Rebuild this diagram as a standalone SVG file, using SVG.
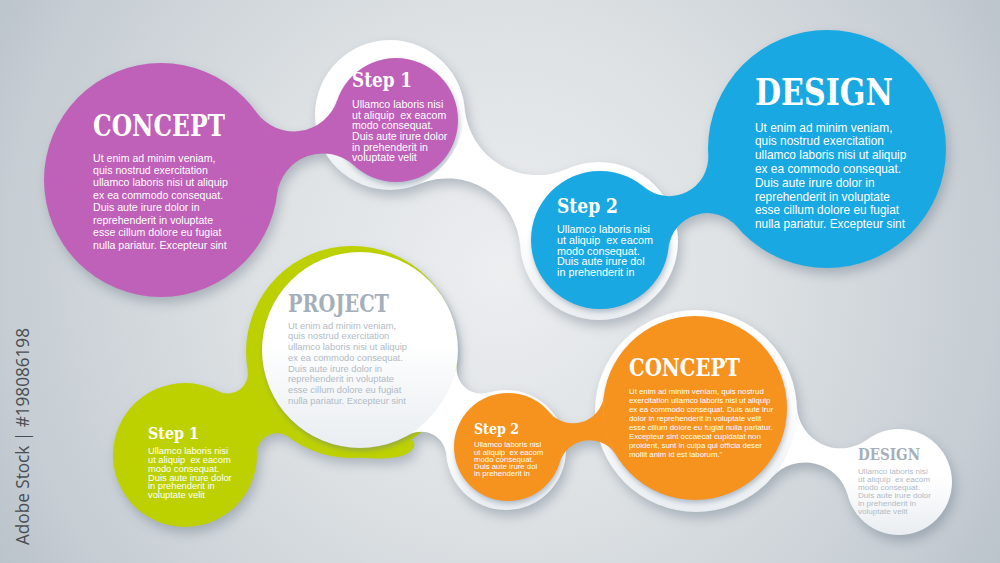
<svg xmlns="http://www.w3.org/2000/svg" xmlns:xlink="http://www.w3.org/1999/xlink" width="1000" height="563" viewBox="0 0 1000 563">
<style>
.h{font-family:'DejaVu Serif Condensed','DejaVu Serif',serif;font-weight:bold;fill:#fff}
.b{font-family:'Liberation Sans',Arial,sans-serif;fill:#fff}
.gt{fill:#a5afba}
.gb{fill:#b2bbc5}
.pu{fill:#bf60b9}
.bl{fill:#1aa8e2}
.gr{fill:#bdd100}
.or{fill:#f6931f}
.wh{fill:url(#wg)}
.wf{fill:#ffffff}
.ish{fill:#6a7d93;opacity:.45}
</style>
<defs>
<radialGradient id="bg" gradientUnits="userSpaceOnUse" cx="500" cy="270" r="620">
<stop offset="0" stop-color="#eceef0"/>
<stop offset="0.4" stop-color="#dde1e4"/>
<stop offset="0.8" stop-color="#c6cdd3"/>
<stop offset="1" stop-color="#b5bec7"/>
</radialGradient>
<linearGradient id="wg" x1="0" y1="0" x2="0" y2="1">
<stop offset="0.45" stop-color="#ffffff"/>
<stop offset="1" stop-color="#e9edf1"/>
</linearGradient>
<filter id="blur6" x="-30%" y="-30%" width="160%" height="160%"><feGaussianBlur stdDeviation="6"/></filter>
<filter id="blur2" x="-20%" y="-20%" width="140%" height="140%"><feGaussianBlur stdDeviation="2.5"/></filter>
<path id="n1" d="M256.3,112.1 A46,46 0 0 0 337.3,100.1 A68.2,68.2 0 0 0 354.0,165.6 A46,46 0 0 0 277.2,193.9 A128.7,128.7 0 0 0 256.3,112.1 Z"/>
<path id="n2" d="M464.7,108.4 A73,73 0 0 0 567.0,168.8 A86.9,86.9 0 0 0 520.2,246.4 A73,73 0 0 0 419.1,184.1 A82.5,82.5 0 0 0 464.7,108.4 Z"/>
<path id="n3" d="M644.2,187.0 A39,39 0 0 0 708.2,155.1 A130.9,130.9 0 0 0 736.9,226.7 A39,39 0 0 0 668.6,247.8 A75.9,75.9 0 0 0 644.2,187.0 Z"/>
<path id="n4" d="M218.6,391.3 A20,20 0 0 0 247.6,370.2 A116.6,116.6 0 0 0 288.9,437.2 A20,20 0 0 0 257.0,453.6 A79.2,79.2 0 0 0 218.6,391.3 Z"/>
<path id="n5" d="M549.3,412.2 A31,31 0 0 0 603.8,396.2 A101.2,101.2 0 0 0 616.1,455.3 A31,31 0 0 0 559.8,462.4 A59.4,59.4 0 0 0 549.3,412.2 Z"/>
<path id="n6" d="M456.9,364.8 A25,25 0 0 0 488.8,392.5 A66,66 0 0 0 446.2,454.7 A25,25 0 0 0 408.8,435.0 A107.8,107.8 0 0 0 456.9,364.8 Z"/>
<path id="n7" d="M796.9,406.4 A44,44 0 0 0 867.2,439.6 A58.3,58.3 0 0 0 847.7,495.4 A44,44 0 0 0 772.0,477.5 A111.1,111.1 0 0 0 796.9,406.4 Z"/>
<path id="tail" d="M360,457.5 C390,460 408,458 414,447 C416,441 410,437 400,440 L370,448 Z"/>
</defs>

<rect width="1000" height="563" fill="url(#bg)"/>

<g id="shadows" filter="url(#blur6)" fill="#4d5d70" opacity="0.34" transform="translate(3,6)">
<circle cx="161" cy="180" r="117"/>
<circle cx="390" cy="115" r="75"/>
<circle cx="599" cy="241" r="79"/>
<circle cx="827" cy="149" r="119"/>
<circle cx="185" cy="455" r="72"/>
<circle cx="352" cy="352" r="106"/>
<circle cx="506" cy="450" r="60"/>
<circle cx="696" cy="411" r="101"/>
<circle cx="899" cy="482" r="53"/>
<use xlink:href="#n1"/><use xlink:href="#n2"/><use xlink:href="#n3"/><use xlink:href="#n4"/><use xlink:href="#n5"/><use xlink:href="#n6"/><use xlink:href="#n7"/><use xlink:href="#tail"/>
</g>

<g id="concept-top">
<circle class="pu" cx="161" cy="180" r="117"/>
<text class="h" x="93" y="136" font-size="29" textLength="132" lengthAdjust="spacingAndGlyphs">CONCEPT</text>
<text class="b" font-size="10.6">
<tspan x="93" y="161.5">Ut enim ad minim veniam,</tspan>
<tspan x="93" y="174">quis nostrud exercitation</tspan>
<tspan x="93" y="186.4">ullamco laboris nisi ut aliquip</tspan>
<tspan x="93" y="198.9">ex ea commodo consequat.</tspan>
<tspan x="93" y="211.3">Duis aute irure dolor in</tspan>
<tspan x="93" y="223.8">reprehenderit in voluptate</tspan>
<tspan x="93" y="236.2">esse cillum dolore eu fugiat</tspan>
<tspan x="93" y="248.7">nulla pariatur. Excepteur sint</tspan>
</text>
</g>

<g id="step1-top">
<circle class="wh" cx="390" cy="115" r="75"/>
<circle class="ish" cx="397" cy="123" r="62" filter="url(#blur2)"/>
<circle class="pu" cx="396" cy="120" r="62"/>
<text class="h" x="352" y="87" font-size="20" textLength="60" lengthAdjust="spacingAndGlyphs">Step 1</text>
<text class="b" font-size="10.6" xml:space="preserve">
<tspan x="352" y="108.3">Ullamco laboris nisi</tspan>
<tspan x="352" y="118.9">ut aliquip  ex eacom</tspan>
<tspan x="352" y="129.4">modo consequat.</tspan>
<tspan x="352" y="140">Duis aute irure dolor</tspan>
<tspan x="352" y="150.5">in prehenderit in</tspan>
<tspan x="352" y="161">voluptate velit</tspan>
</text>
</g>

<g id="step2-top">
<circle class="wh" cx="599" cy="241" r="79"/>
<circle class="ish" cx="601" cy="243" r="69" filter="url(#blur2)"/>
<circle class="bl" cx="600" cy="240" r="69"/>
<text class="h" x="557" y="212.5" font-size="20" textLength="61" lengthAdjust="spacingAndGlyphs">Step 2</text>
<text class="b" font-size="10.8" xml:space="preserve">
<tspan x="557" y="233">Ullamco laboris nisi</tspan>
<tspan x="557" y="243.8">ut aliquip  ex eacom</tspan>
<tspan x="557" y="254.6">modo consequat.</tspan>
<tspan x="557" y="265.4">Duis aute irure dol</tspan>
<tspan x="557" y="276.2">in prehenderit in</tspan>
</text>
</g>

<g id="design-top">
<circle class="bl" cx="827" cy="149" r="119"/>
<text class="h" x="755" y="105" font-size="37" textLength="138" lengthAdjust="spacingAndGlyphs">DESIGN</text>
<text class="b" font-size="11.9">
<tspan x="755" y="131.5">Ut enim ad minim veniam,</tspan>
<tspan x="755" y="145.3">quis nostrud exercitation</tspan>
<tspan x="755" y="159.1">ullamco laboris nisi ut aliquip</tspan>
<tspan x="755" y="172.9">ex ea commodo consequat.</tspan>
<tspan x="755" y="186.7">Duis aute irure dolor in</tspan>
<tspan x="755" y="200.5">reprehenderit in voluptate</tspan>
<tspan x="755" y="214.3">esse cillum dolore eu fugiat</tspan>
<tspan x="755" y="228.1">nulla pariatur. Excepteur sint</tspan>
</text>
</g>

<g id="step1-bottom">
<circle class="gr" cx="185" cy="455" r="72"/>
<text class="h" x="148" y="439" font-size="17" textLength="51" lengthAdjust="spacingAndGlyphs">Step 1</text>
<text class="b" font-size="9.3" xml:space="preserve">
<tspan x="148" y="454">Ullamco laboris nisi</tspan>
<tspan x="148" y="462.9">ut aliquip  ex eacom</tspan>
<tspan x="148" y="471.7">modo consequat.</tspan>
<tspan x="148" y="480.6">Duis aute irure dolor</tspan>
<tspan x="148" y="489.4">in prehenderit in</tspan>
<tspan x="148" y="498.3">voluptate velit</tspan>
</text>
</g>

<g id="project">
<circle class="gr" cx="352" cy="352" r="106"/>
<use class="gr" xlink:href="#tail"/>
<circle class="ish" cx="361" cy="353" r="98" filter="url(#blur2)"/>
<circle class="wh" cx="360" cy="350" r="98"/>
<text class="h gt" x="288" y="311.5" font-size="25" textLength="101" lengthAdjust="spacingAndGlyphs">PROJECT</text>
<text class="b gb" font-size="9.35">
<tspan x="288" y="328.7">Ut enim ad minim veniam,</tspan>
<tspan x="288" y="339.4">quis nostrud exercitation</tspan>
<tspan x="288" y="350.1">ullamco laboris nisi ut aliquip</tspan>
<tspan x="288" y="360.8">ex ea commodo consequat.</tspan>
<tspan x="288" y="371.5">Duis aute irure dolor in</tspan>
<tspan x="288" y="382.2">reprehenderit in voluptate</tspan>
<tspan x="288" y="392.9">esse cillum dolore eu fugiat</tspan>
<tspan x="288" y="403.6">nulla pariatur. Excepteur sint</tspan>
</text>
</g>

<g id="step2-bottom">
<circle class="wh" cx="506" cy="450" r="60"/>
<circle class="ish" cx="509" cy="450" r="54" filter="url(#blur2)"/>
<circle class="or" cx="508" cy="447" r="54"/>
<text class="h" x="474" y="434" font-size="15.5" textLength="45" lengthAdjust="spacingAndGlyphs">Step 2</text>
<text class="b" font-size="7.8" xml:space="preserve">
<tspan x="474" y="447.3">Ullamco laboris nisi</tspan>
<tspan x="474" y="454.6">ut aliquip  ex eacom</tspan>
<tspan x="474" y="461.8">modo consequat.</tspan>
<tspan x="474" y="469.1">Duis aute irure dol</tspan>
<tspan x="474" y="476.3">in prehenderit in</tspan>
</text>
</g>

<g id="concept-bottom">
<circle class="wh" cx="696" cy="411" r="101"/>
<circle class="ish" cx="696" cy="411" r="92" filter="url(#blur2)"/>
<circle class="or" cx="695" cy="408" r="92"/>
<text class="h" x="629" y="376" font-size="24" textLength="111" lengthAdjust="spacingAndGlyphs">CONCEPT</text>
<text class="b" font-size="7.8">
<tspan x="629" y="394">Ut enim ad minim veniam, quis nostrud</tspan>
<tspan x="629" y="403">exercitation ullamco laboris nisi ut aliquip</tspan>
<tspan x="629" y="412">ex ea commodo consequat. Duis aute irur</tspan>
<tspan x="629" y="421">dolor in reprehenderit in voluptate velit</tspan>
<tspan x="629" y="430">esse cillum dolore eu fugiat nulla pariatur.</tspan>
<tspan x="629" y="439">Excepteur sint occaecat cupidatat non</tspan>
<tspan x="629" y="448">proident, sunt in culpa qui officia deser</tspan>
<tspan x="629" y="457">mollit anim id est laborum."</tspan>
</text>
</g>

<g id="design-bottom">
<circle class="wh" cx="899" cy="482" r="53"/>
<text class="h gt" x="858" y="460" font-size="16.5" textLength="62" lengthAdjust="spacingAndGlyphs">DESIGN</text>
<text class="b gb" font-size="8.1" xml:space="preserve">
<tspan x="858" y="473.5">Ullamco laboris nisi</tspan>
<tspan x="858" y="481.5">ut aliquip  ex eacom</tspan>
<tspan x="858" y="489.5">modo consequat.</tspan>
<tspan x="858" y="497.5">Duis aute irure dolor</tspan>
<tspan x="858" y="505.5">in prehenderit in</tspan>
<tspan x="858" y="513.5">voluptate velit</tspan>
</text>
</g>

<g id="connectors">
<use class="wf" xlink:href="#n2"/>
<use class="wf" xlink:href="#n6"/>
<use class="wf" xlink:href="#n7"/>
<use class="pu" xlink:href="#n1"/>
<use class="bl" xlink:href="#n3"/>
<use class="gr" xlink:href="#n4"/>
<use class="or" xlink:href="#n5"/>
</g>

<g id="side-label">
<text transform="translate(29,545) rotate(-90)" x="0" y="0" font-family="'Open Sans','Noto Sans',sans-serif" font-size="18" fill="#4a4e54" textLength="217" lengthAdjust="spacingAndGlyphs">Adobe Stock | #198086198</text>
</g>
</svg>
